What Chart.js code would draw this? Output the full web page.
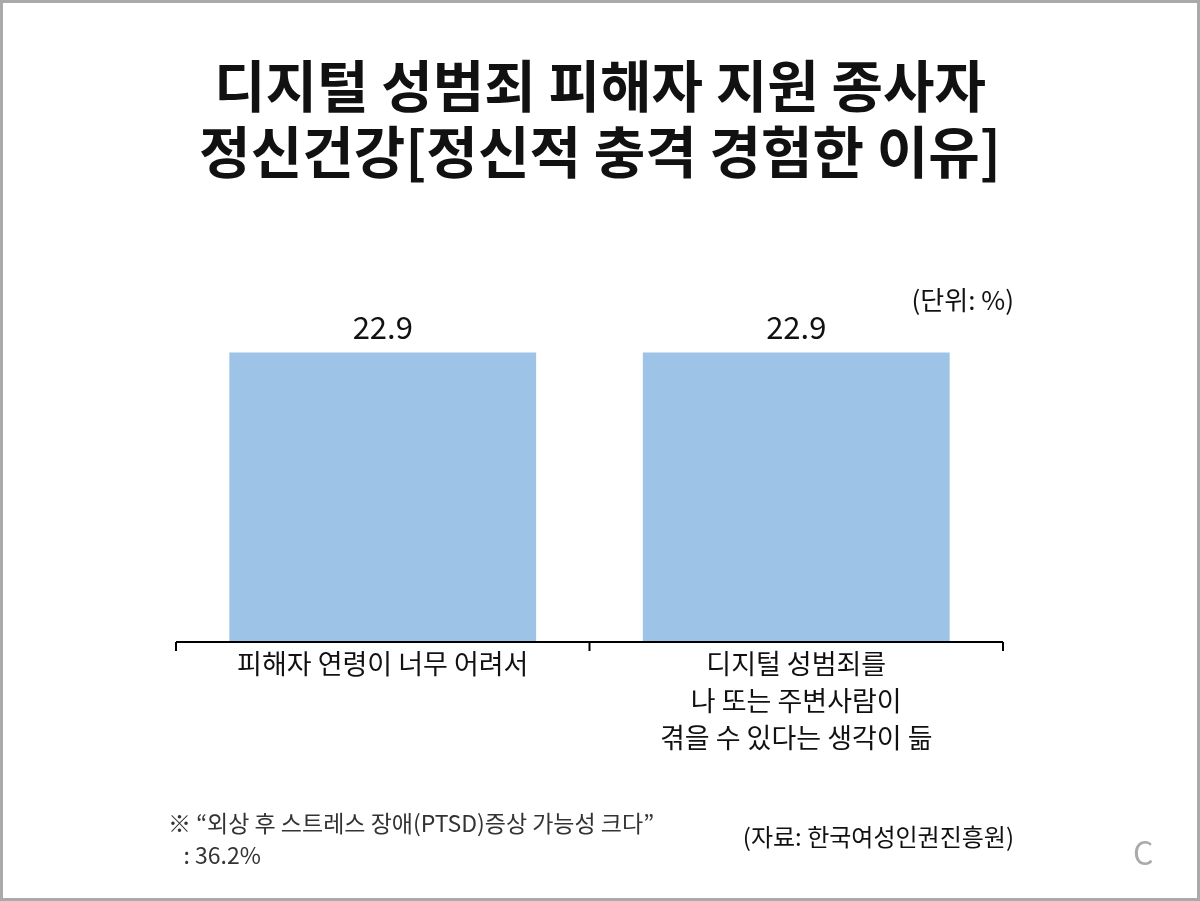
<!DOCTYPE html>
<html><head><meta charset="utf-8">
<script src="https://cdn.jsdelivr.net/npm/chart.js@4"></script>
<style>
html,body{margin:0;padding:0;background:#fff;}
#wrap{position:relative;width:1200px;height:901px;overflow:hidden;font-family:"Noto Sans CJK KR","Noto Sans",sans-serif;}
#frame{position:absolute;left:0;top:0;width:1194px;height:895px;border:3px solid #aaa;pointer-events:none;}
canvas{position:absolute;left:0;top:0;}
.t{position:absolute;white-space:nowrap;color:#111;}
</style></head><body>
<div id="wrap">
<canvas id="c" width="1200" height="901"></canvas>
<div class="t" style="left:0;width:1200px;top:50px;text-align:center;font-size:56px;font-weight:bold;line-height:66px;">디지털 성범죄 피해자 지원 종사자<br>정신건강[정신적 충격 경험한 이유]</div>
<div class="t" style="right:186px;top:280px;font-size:26px;">(단위: %)</div>
<div class="t" style="left:168px;top:806px;font-size:23px;color:#333;line-height:32px;">※ “외상 후 스트레스 장애(PTSD)증상 가능성 크다”<br>&nbsp;&nbsp;&nbsp;: 36.2%</div>
<div class="t" style="right:186px;top:818px;font-size:24px;">(자료: 한국여성인권진흥원)</div>
<div class="t" style="left:1133px;top:828px;font-size:32px;color:#aaa;">C</div>
<div id="frame"></div>
</div>
<script>
const categories=[["피해자 연령이 너무 어려서"],["디지털 성범죄를","나 또는 주변사람이","겪을 수 있다는 생각이 듦"]];
const values=[22.9,22.9];
const yMax=25;
const deco={id:'deco',afterDraw(ch){
 const c=ch.ctx,a=ch.chartArea,x=ch.scales.x,y=ch.scales.y;
 c.save();c.strokeStyle='#000';c.lineWidth=2;
 c.beginPath();c.moveTo(a.left,a.bottom);c.lineTo(a.right,a.bottom);
 [a.left,(a.left+a.right)/2,a.right].forEach(px=>{c.moveTo(px,a.bottom);c.lineTo(px,a.bottom+9);});
 c.stroke();
 c.fillStyle='#111';c.textAlign='center';c.textBaseline='top';c.font='27px "Noto Sans CJK KR"';
 categories.forEach((l,i)=>{const px=x.getPixelForValue(i);l.forEach((s,j)=>c.fillText(s,px,a.bottom+8+j*37));});
 c.font='31px "Noto Sans CJK KR"';c.textBaseline='bottom';
 values.forEach((v,i)=>c.fillText(v.toFixed(1),x.getPixelForValue(i),y.getPixelForValue(v)-10));
 c.restore();}};
new Chart(document.getElementById('c'),{type:'bar',
 data:{labels:categories.map(l=>l.join(' ')),datasets:[{data:values,backgroundColor:'#9DC3E6',barPercentage:0.742,categoryPercentage:1}]},
 options:{responsive:false,animation:false,events:[],
  layout:{padding:{left:176,right:197,top:326,bottom:259}},
  plugins:{legend:{display:false},tooltip:{enabled:false}},
  scales:{x:{display:false},y:{display:false,min:0,max:yMax}}},
 plugins:[deco]});
</script></body></html>
